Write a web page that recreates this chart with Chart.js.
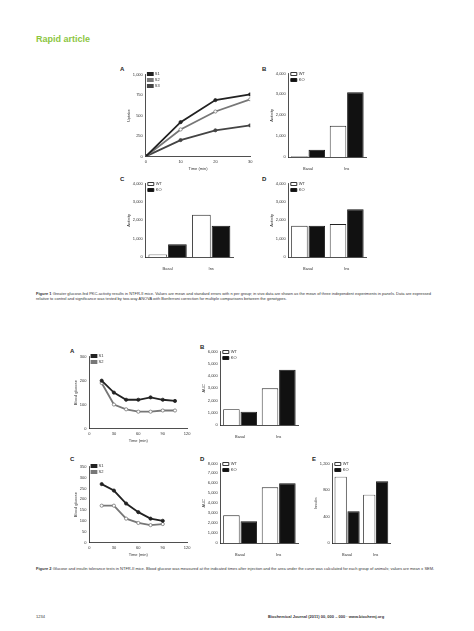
<!DOCTYPE html>
<html><head><meta charset="utf-8">
<script src="https://cdn.jsdelivr.net/npm/chart.js@4"></script>
<style>
body{margin:0;width:474px;height:631px;background:#fff;position:relative;font-family:"Liberation Sans",Arial,sans-serif;overflow:hidden}
.c{position:absolute}
.t{position:absolute;font-size:4px;color:#333;line-height:5px}
.lbl{position:absolute;font-size:6px;font-weight:bold;color:#222}
</style></head><body>
<div class="t" style="left:36px;top:37px;font-size:9px;color:#8cc63f;font-weight:bold">Rapid article</div>

<div class="lbl" style="left:120px;top:66px">A</div>
<div class="lbl" style="left:262px;top:66px">B</div>
<div class="lbl" style="left:120px;top:176px">C</div>
<div class="lbl" style="left:262px;top:176px">D</div>
<div class="c" style="left:125px;top:70px;width:130px;height:102px"><canvas id="f1a"></canvas></div>
<div class="c" style="left:268px;top:70px;width:100px;height:102px"><canvas id="f1b"></canvas></div>
<div class="c" style="left:125px;top:180px;width:110px;height:92px"><canvas id="f1c"></canvas></div>
<div class="c" style="left:268px;top:180px;width:100px;height:92px"><canvas id="f1d"></canvas></div>
<div class="t" style="left:36px;top:291px;width:400px"><b>Figure 1</b> Greater glucose-fed PKC-activity results in NTFR-II mice. Values are mean and standard errors with n per group; in vivo data are shown as the mean of three independent experiments in panels. Data are expressed relative to control and significance was tested by two-way ANOVA with Bonferroni correction for multiple comparisons between the genotypes.</div>

<div class="lbl" style="left:70px;top:348px">A</div>
<div class="lbl" style="left:200px;top:344px">B</div>
<div class="lbl" style="left:70px;top:456px">C</div>
<div class="lbl" style="left:200px;top:456px">D</div>
<div class="lbl" style="left:312px;top:456px">E</div>
<div class="c" style="left:72px;top:352px;width:120px;height:92px"><canvas id="f2a"></canvas></div>
<div class="c" style="left:200px;top:348px;width:100px;height:92px"><canvas id="f2b"></canvas></div>
<div class="c" style="left:72px;top:462px;width:120px;height:96px"><canvas id="f2c"></canvas></div>
<div class="c" style="left:200px;top:460px;width:100px;height:98px"><canvas id="f2d"></canvas></div>
<div class="c" style="left:312px;top:460px;width:80px;height:98px"><canvas id="f2e"></canvas></div>
<div class="t" style="left:36px;top:566px;width:400px"><b>Figure 2</b> Glucose and insulin tolerance tests in NTFR-II mice. Blood glucose was measured at the indicated times after injection and the area under the curve was calculated for each group of animals; values are mean ± SEM.</div>
<div class="t" style="left:36px;top:614px">1234</div>
<div class="t" style="left:268px;top:614px;width:180px;font-weight:bold">Biochemical Journal (2011) 00, 000 – 000 · www.biochemj.org</div>

<script>
// Figure 1A
const f1aX = [0, 10, 20, 30];
const f1aS1 = [0, 420, 690, 760];
const f1aS2 = [0, 330, 550, 700];
const f1aS3 = [0, 200, 320, 380];
// Bar panels
const barCats = ["Basal", "Ins"];
const f1bWT = [40, 1500]; const f1bKO = [350, 3100];
const f1cWT = [150, 2300]; const f1cKO = [700, 1700];
const f1dWT = [1700, 1800]; const f1dKO = [1700, 2600];
// Figure 2 time courses
const f2X = [0, 15, 30, 45, 60, 75, 90, 105, 120];
const f2aS1 = [null, 200, 150, 120, 120, 130, 120, 115, null];
const f2aS2 = [null, 190, 100, 80, 70, 70, 75, 75, null];
const f2bWT = [1300, 3000]; const f2bKO = [1100, 4500];
const f2cS1 = [null, 270, 240, 180, 140, 110, 100, null, null];
const f2cS2 = [null, 170, 170, 110, 90, 80, 85, null, null];
const f2dWT = [2800, 5600]; const f2dKO = [2200, 6000];
const f2eWT = [1000, 730]; const f2eKO = [480, 930];

Chart.defaults.font.size = 4;
Chart.defaults.font.family = "Liberation Sans";
Chart.defaults.color = "#333";
Chart.defaults.animation = false;
const ax = (title, max, step) => ({
  min: 0, max, border:{color:"#222",width:0.8},
  grid:{display:false, drawTicks:true, tickLength:2, tickColor:"#222"},
  ticks:{stepSize:step, padding:1},
  title:{display:!!title,text:title,padding:1}
});
function lineChart(id, xs, series, yMax, yStep, xMax, xStep, xTitle, yTitle){
  const styles=[["#222","#222"],["#777","#fff"],["#444","#444"]];
  new Chart(document.getElementById(id),{type:"line",
    data:{labels:xs,datasets:series.map((d,i)=>({label:"S"+(i+1),data:xs.map((x,j)=>({x,y:d[j]})),borderColor:styles[i][0],backgroundColor:styles[i][1],borderWidth:1.8,pointRadius:1.6,pointBorderWidth:0.8,spanGaps:false}))},
    options:{responsive:true,maintainAspectRatio:false,layout:{padding:{top:2,right:4}},
      plugins:{legend:{display:true,position:"chartArea",align:"start",labels:{boxWidth:5,boxHeight:2,padding:2}},tooltip:{enabled:false}},
      scales:{x:{type:"linear",...ax(xTitle,xMax,xStep)},y:ax(yTitle,yMax,yStep)}}});
}
function barChart(id, wt, ko, yMax, yStep, yTitle){
  new Chart(document.getElementById(id),{type:"bar",
    data:{labels:barCats,datasets:[
      {label:"WT",data:wt,backgroundColor:"#fff",borderColor:"#222",borderWidth:0.9,barPercentage:0.95,categoryPercentage:0.9},
      {label:"KO",data:ko,backgroundColor:"#111",borderColor:"#111",borderWidth:0.9,barPercentage:0.95,categoryPercentage:0.9}]},
    options:{responsive:true,maintainAspectRatio:false,layout:{padding:{top:2,right:2}},
      plugins:{legend:{display:true,position:"chartArea",align:"start",labels:{boxWidth:6,boxHeight:3,padding:2}},tooltip:{enabled:false}},
      scales:{x:{border:{color:"#222",width:0.8},grid:{display:false},ticks:{padding:1}},y:ax(yTitle,yMax,yStep)}}});
}
lineChart("f1a", f1aX, [f1aS1,f1aS2,f1aS3], 1000, 250, 30, 10, "Time (min)", "Uptake");
barChart("f1b", f1bWT, f1bKO, 4000, 1000, "Activity");
barChart("f1c", f1cWT, f1cKO, 4000, 1000, "Activity");
barChart("f1d", f1dWT, f1dKO, 4000, 1000, "Activity");
lineChart("f2a", f2X, [f2aS1,f2aS2], 300, 100, 120, 30, "Time (min)", "Blood glucose");
barChart("f2b", f2bWT, f2bKO, 6000, 1000, "AUC");
lineChart("f2c", f2X, [f2cS1,f2cS2], 350, 50, 120, 30, "Time (min)", "Blood glucose");
barChart("f2d", f2dWT, f2dKO, 8000, 1000, "AUC");
barChart("f2e", f2eWT, f2eKO, 1200, 400, "Insulin");
</script>
</body></html>
